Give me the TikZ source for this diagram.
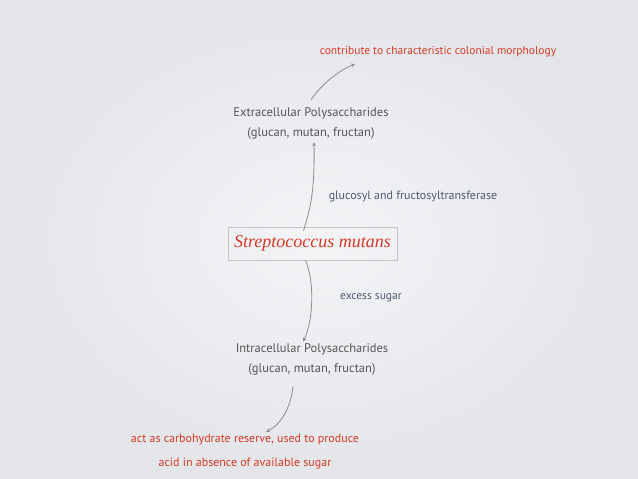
\documentclass[tikz,border=0pt]{standalone}
\usepackage{fontspec}
\setmainfont{PT Sans}
\newfontfamily\bugfont{Liberation Serif}
\definecolor{redtxt}{HTML}{D63A25}
\definecolor{graytxt}{HTML}{555555}
\definecolor{bluetxt}{HTML}{4D5B6E}
\definecolor{arrowgray}{HTML}{8E8E8E}
\definecolor{bgin}{HTML}{F3F4F6}
\definecolor{bgout}{HTML}{E3E5E9}
\begin{document}
\begin{tikzpicture}[x=1pt,y=-1pt,>=stealth,
  poly/.style={text=graytxt,align=center,font={\fontsize{12.5}{20}\selectfont}},
  note/.style={text=redtxt,align=center,font={\fontsize{12}{24}\selectfont}},
  enzyme/.style={text=bluetxt,font={\fontsize{12}{13}\selectfont}},
  link/.style={->,draw=arrowgray,line width=0.8pt}]
\shade[inner color=bgin,outer color=bgout] (0,0) rectangle (638,479);
\node[draw=gray!45,line width=0.6pt,minimum width=169,minimum height=33,text=redtxt,
  font={\bugfont\itshape\fontsize{18}{20}\selectfont}] (strep) at (312.5,243.5) {Streptococcus mutans};
\node[poly] (epoly) at (311,123) {Extracellular Polysaccharides\\(glucan, mutan, fructan)};
\node[poly] (ipoly) at (312,359) {Intracellular Polysaccharides\\(glucan, mutan, fructan)};
\node[note,font={\fontsize{11.5}{14}\selectfont}] (morph) at (438,52) {contribute to characteristic colonial morphology};
\node[note] (reserve) at (245,452) {act as carbohydrate reserve, used to produce\\acid in absence of available sugar};
\node[enzyme] (gtf) at (413,197) {glucosyl and fructosyltransferase};
\node[enzyme,font={\fontsize{11.5}{13}\selectfont}] (sugar) at (371,298) {excess sugar};
\coordinate (mtip) at (355,64);
\coordinate (rtip) at (266,432);
\draw[link] ([xshift=-9pt,yshift=-4pt]strep.north) .. controls (309,212) and (315,196) .. ([xshift=3pt]epoly.south);
\draw[link] ([xshift=-7pt]strep.south) .. controls (315,282) and (313,322) .. ([xshift=-9pt,yshift=-2pt]ipoly.north);
\draw[link] ([yshift=4pt]epoly.north) .. controls (322,84) and (338,71) .. (mtip);
\draw[link] ([xshift=-19pt,yshift=-8pt]ipoly.south) .. controls (291,405) and (283,423) .. (rtip);
\end{tikzpicture}
\end{document}
